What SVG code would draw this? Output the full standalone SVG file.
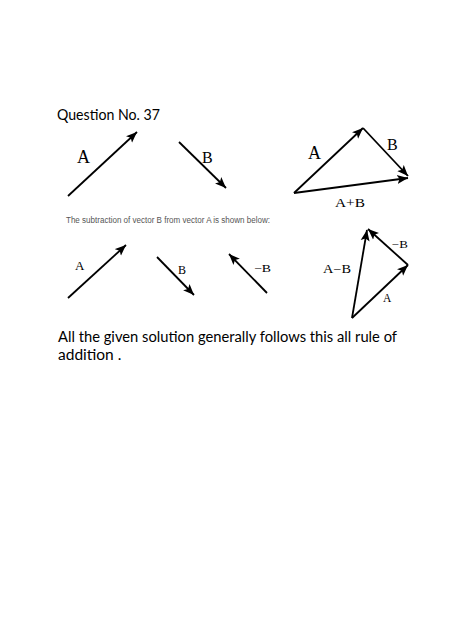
<svg xmlns="http://www.w3.org/2000/svg" width="474" height="632" viewBox="0 0 474 632">
<style>
.sans{font-family:Lato,"Open Sans","Liberation Sans",sans-serif;fill:#000}
.serif{font-family:"Liberation Serif","Times New Roman",serif;fill:#000}
.note{font-family:"Liberation Sans",Arial,sans-serif;fill:#555;font-size:8.5px}
.vec{stroke:#000;stroke-width:1.8;fill:none;marker-end:url(#ah)}
</style>
<defs>
<marker id="ah" markerUnits="userSpaceOnUse" markerWidth="12" markerHeight="10" refX="11" refY="4.5" orient="auto" viewBox="0 0 12 9">
<path d="M0,0 L11,4.5 L0,9 L2.5,4.5 z" fill="#000"/>
</marker>
</defs>
<rect width="474" height="632" fill="#fff"/>
<text class="sans" x="57" y="120" font-size="15" textLength="103" lengthAdjust="spacingAndGlyphs">Question No. 37</text>

<g id="connectors">
<line class="vec" x1="68" y1="196" x2="137" y2="132"/>
<line class="vec" x1="179" y1="142" x2="226" y2="188"/>
<line class="vec" x1="294" y1="193" x2="363" y2="128"/>
<line class="vec" x1="363" y1="128" x2="408" y2="176"/>
<line class="vec" x1="294" y1="193" x2="408" y2="178"/>
<line class="vec" x1="68" y1="298" x2="126" y2="245"/>
<line class="vec" x1="157" y1="257" x2="194" y2="295"/>
<line class="vec" x1="267" y1="293" x2="229" y2="254"/>
<line class="vec" x1="352" y1="318" x2="408" y2="265"/>
<line class="vec" x1="408" y1="265" x2="368" y2="229"/>
<line class="vec" x1="352" y1="318" x2="367" y2="230"/>
</g>

<g id="labels-top">
<text class="serif" x="77" y="163" font-size="18">A</text>
<text class="serif" x="202" y="163" font-size="16">B</text>
<text class="serif" x="308" y="159" font-size="18">A</text>
<text class="serif" x="387" y="150" font-size="16">B</text>
<text class="serif" x="335" y="207" font-size="13.5" textLength="30" lengthAdjust="spacingAndGlyphs">A+B</text>
</g>

<text class="note" x="66" y="223" textLength="204" lengthAdjust="spacingAndGlyphs">The subtraction of vector B from vector A is shown below:</text>

<g id="labels-bottom">
<text class="serif" x="75" y="270" font-size="13">A</text>
<text class="serif" x="178" y="274" font-size="12">B</text>
<text class="serif" x="254" y="272" font-size="11" textLength="17" lengthAdjust="spacingAndGlyphs">−B</text>
<text class="serif" x="392" y="248" font-size="10.5" textLength="16" lengthAdjust="spacingAndGlyphs">−B</text>
<text class="serif" x="323" y="273" font-size="11.5" textLength="28" lengthAdjust="spacingAndGlyphs">A−B</text>
<text class="serif" x="383" y="302" font-size="11.5">A</text>
</g>

<text class="sans" x="58" y="342" font-size="15.5" textLength="339" lengthAdjust="spacingAndGlyphs">All the given solution generally follows this all rule of</text>
<text class="sans" x="58" y="360" font-size="15.5">addition .</text>
</svg>
